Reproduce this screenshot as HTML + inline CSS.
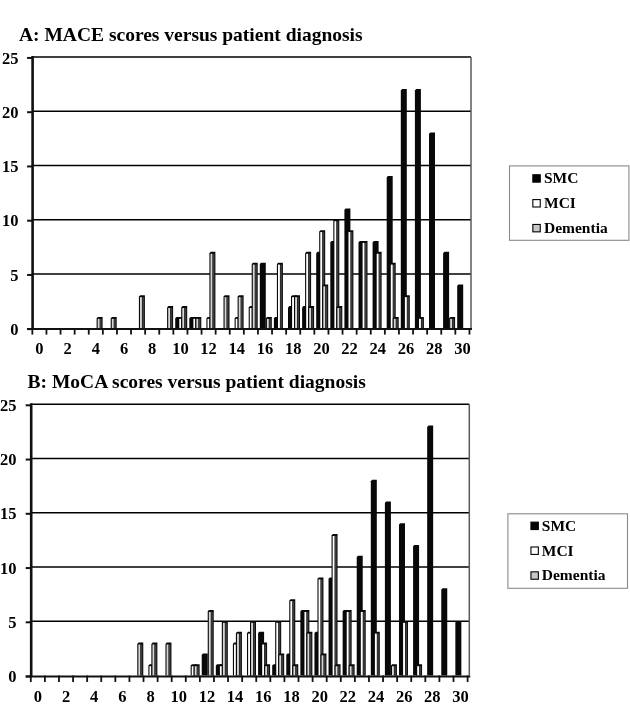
<!DOCTYPE html>
<html><head><meta charset="utf-8"><title>MACE and MoCA scores versus patient diagnosis</title>
<style>
html,body{margin:0;padding:0;background:#fff;}
body{width:630px;height:705px;overflow:hidden;}
svg{display:block;}
.h{font-family:"Liberation Serif","Times New Roman",serif;font-weight:bold;font-size:19.5px;fill:#000;}
.t{font-family:"Liberation Serif","Times New Roman",serif;font-weight:bold;font-size:16.5px;fill:#000;}
.l{font-family:"Liberation Serif","Times New Roman",serif;font-weight:bold;font-size:15.5px;fill:#000;}
</style></head>
<body>
<svg width="630" height="705" viewBox="0 0 630 705">
<rect width="630" height="705" fill="#fff"/>
<text x="19" y="40.6" class="h">A: MACE scores versus patient diagnosis</text>
<line x1="32.6" y1="273.95" x2="471" y2="273.95" stroke="#000" stroke-width="1.5"/>
<line x1="32.6" y1="219.7" x2="471" y2="219.7" stroke="#000" stroke-width="1.5"/>
<line x1="32.6" y1="165.45" x2="471" y2="165.45" stroke="#000" stroke-width="1.5"/>
<line x1="32.6" y1="111.2" x2="471" y2="111.2" stroke="#000" stroke-width="1.5"/>
<line x1="32.6" y1="56.95" x2="471" y2="56.95" stroke="#000" stroke-width="1.5"/>
<line x1="471" y1="56.95" x2="471" y2="328.2" stroke="#5a5a5a" stroke-width="1.5"/>
<polygon points="96.6,318.25 97.9,316.95 102.6,316.95 102.6,328.2 96.6,328.2" fill="#080808"/>
<rect x="97.7" y="318.85" width="1.9" height="9.35" fill="#d6d6d6"/>
<rect x="100" y="318.85" width="1.7" height="9.35" fill="#3c3c3c"/>
<polygon points="110.7,318.25 112,316.95 116.7,316.95 116.7,328.2 110.7,328.2" fill="#080808"/>
<rect x="111.8" y="318.85" width="1.9" height="9.35" fill="#d6d6d6"/>
<rect x="114.1" y="318.85" width="1.7" height="9.35" fill="#3c3c3c"/>
<polygon points="138.9,296.55 140.2,295.25 144.9,295.25 144.9,328.2 138.9,328.2" fill="#080808"/>
<rect x="140" y="297.15" width="1.9" height="31.05" fill="#d6d6d6"/>
<rect x="142.3" y="297.15" width="1.7" height="31.05" fill="#3c3c3c"/>
<polygon points="167.1,307.4 168.4,306.1 173.1,306.1 173.1,328.2 167.1,328.2" fill="#080808"/>
<rect x="168.2" y="308" width="1.9" height="20.2" fill="#d6d6d6"/>
<rect x="170.5" y="308" width="1.7" height="20.2" fill="#3c3c3c"/>
<polygon points="175.2,318.25 176.5,316.95 181.2,316.95 181.2,328.2 175.2,328.2" fill="#080808"/>
<polygon points="178.2,318.25 179.5,316.95 184.2,316.95 184.2,328.2 178.2,328.2" fill="#080808"/>
<rect x="179.3" y="318.85" width="1.9" height="9.35" fill="#fff"/>
<rect x="181.6" y="318.85" width="1.7" height="9.35" fill="#3c3c3c"/>
<polygon points="181.2,307.4 182.5,306.1 187.2,306.1 187.2,328.2 181.2,328.2" fill="#080808"/>
<rect x="182.3" y="308" width="1.9" height="20.2" fill="#d6d6d6"/>
<rect x="184.6" y="308" width="1.7" height="20.2" fill="#3c3c3c"/>
<polygon points="189.3,318.25 190.6,316.95 195.3,316.95 195.3,328.2 189.3,328.2" fill="#080808"/>
<polygon points="192.3,318.25 193.6,316.95 198.3,316.95 198.3,328.2 192.3,328.2" fill="#080808"/>
<rect x="193.4" y="318.85" width="1.9" height="9.35" fill="#fff"/>
<rect x="195.7" y="318.85" width="1.7" height="9.35" fill="#3c3c3c"/>
<polygon points="195.3,318.25 196.6,316.95 201.3,316.95 201.3,328.2 195.3,328.2" fill="#080808"/>
<rect x="196.4" y="318.85" width="1.9" height="9.35" fill="#d6d6d6"/>
<rect x="198.7" y="318.85" width="1.7" height="9.35" fill="#3c3c3c"/>
<polygon points="206.4,318.25 207.7,316.95 212.4,316.95 212.4,328.2 206.4,328.2" fill="#080808"/>
<rect x="207.5" y="318.85" width="1.9" height="9.35" fill="#fff"/>
<rect x="209.8" y="318.85" width="1.7" height="9.35" fill="#3c3c3c"/>
<polygon points="209.4,253.15 210.7,251.85 215.4,251.85 215.4,328.2 209.4,328.2" fill="#080808"/>
<rect x="210.5" y="253.75" width="1.9" height="74.45" fill="#d6d6d6"/>
<rect x="212.8" y="253.75" width="1.7" height="74.45" fill="#3c3c3c"/>
<polygon points="223.5,296.55 224.8,295.25 229.5,295.25 229.5,328.2 223.5,328.2" fill="#080808"/>
<rect x="224.6" y="297.15" width="1.9" height="31.05" fill="#d6d6d6"/>
<rect x="226.9" y="297.15" width="1.7" height="31.05" fill="#3c3c3c"/>
<polygon points="234.6,318.25 235.9,316.95 240.6,316.95 240.6,328.2 234.6,328.2" fill="#080808"/>
<rect x="235.7" y="318.85" width="1.9" height="9.35" fill="#fff"/>
<rect x="238" y="318.85" width="1.7" height="9.35" fill="#3c3c3c"/>
<polygon points="237.6,296.55 238.9,295.25 243.6,295.25 243.6,328.2 237.6,328.2" fill="#080808"/>
<rect x="238.7" y="297.15" width="1.9" height="31.05" fill="#d6d6d6"/>
<rect x="241" y="297.15" width="1.7" height="31.05" fill="#3c3c3c"/>
<polygon points="248.7,307.4 250,306.1 254.7,306.1 254.7,328.2 248.7,328.2" fill="#080808"/>
<rect x="249.8" y="308" width="1.9" height="20.2" fill="#fff"/>
<rect x="252.1" y="308" width="1.7" height="20.2" fill="#3c3c3c"/>
<polygon points="251.7,264 253,262.7 257.7,262.7 257.7,328.2 251.7,328.2" fill="#080808"/>
<rect x="252.8" y="264.6" width="1.9" height="63.6" fill="#d6d6d6"/>
<rect x="255.1" y="264.6" width="1.7" height="63.6" fill="#3c3c3c"/>
<polygon points="259.8,264 261.1,262.7 265.8,262.7 265.8,328.2 259.8,328.2" fill="#080808"/>
<polygon points="265.8,318.25 267.1,316.95 271.8,316.95 271.8,328.2 265.8,328.2" fill="#080808"/>
<rect x="266.9" y="318.85" width="1.9" height="9.35" fill="#d6d6d6"/>
<rect x="269.2" y="318.85" width="1.7" height="9.35" fill="#3c3c3c"/>
<polygon points="273.9,318.25 275.2,316.95 279.9,316.95 279.9,328.2 273.9,328.2" fill="#080808"/>
<polygon points="276.9,264 278.2,262.7 282.9,262.7 282.9,328.2 276.9,328.2" fill="#080808"/>
<rect x="278" y="264.6" width="1.9" height="63.6" fill="#fff"/>
<rect x="280.3" y="264.6" width="1.7" height="63.6" fill="#3c3c3c"/>
<polygon points="288,307.4 289.3,306.1 294,306.1 294,328.2 288,328.2" fill="#080808"/>
<polygon points="291,296.55 292.3,295.25 297,295.25 297,328.2 291,328.2" fill="#080808"/>
<rect x="292.1" y="297.15" width="1.9" height="31.05" fill="#fff"/>
<rect x="294.4" y="297.15" width="1.7" height="31.05" fill="#3c3c3c"/>
<polygon points="294,296.55 295.3,295.25 300,295.25 300,328.2 294,328.2" fill="#080808"/>
<rect x="295.1" y="297.15" width="1.9" height="31.05" fill="#d6d6d6"/>
<rect x="297.4" y="297.15" width="1.7" height="31.05" fill="#3c3c3c"/>
<polygon points="302.1,307.4 303.4,306.1 308.1,306.1 308.1,328.2 302.1,328.2" fill="#080808"/>
<polygon points="305.1,253.15 306.4,251.85 311.1,251.85 311.1,328.2 305.1,328.2" fill="#080808"/>
<rect x="306.2" y="253.75" width="1.9" height="74.45" fill="#fff"/>
<rect x="308.5" y="253.75" width="1.7" height="74.45" fill="#3c3c3c"/>
<polygon points="308.1,307.4 309.4,306.1 314.1,306.1 314.1,328.2 308.1,328.2" fill="#080808"/>
<rect x="309.2" y="308" width="1.9" height="20.2" fill="#d6d6d6"/>
<rect x="311.5" y="308" width="1.7" height="20.2" fill="#3c3c3c"/>
<polygon points="316.2,253.15 317.5,251.85 322.2,251.85 322.2,328.2 316.2,328.2" fill="#080808"/>
<polygon points="319.2,231.45 320.5,230.15 325.2,230.15 325.2,328.2 319.2,328.2" fill="#080808"/>
<rect x="320.3" y="232.05" width="1.9" height="96.15" fill="#fff"/>
<rect x="322.6" y="232.05" width="1.7" height="96.15" fill="#3c3c3c"/>
<polygon points="322.2,285.7 323.5,284.4 328.2,284.4 328.2,328.2 322.2,328.2" fill="#080808"/>
<rect x="323.3" y="286.3" width="1.9" height="41.9" fill="#d6d6d6"/>
<rect x="325.6" y="286.3" width="1.7" height="41.9" fill="#3c3c3c"/>
<polygon points="330.3,242.3 331.6,241 336.3,241 336.3,328.2 330.3,328.2" fill="#080808"/>
<polygon points="333.3,220.6 334.6,219.3 339.3,219.3 339.3,328.2 333.3,328.2" fill="#080808"/>
<rect x="334.4" y="221.2" width="1.9" height="107" fill="#fff"/>
<rect x="336.7" y="221.2" width="1.7" height="107" fill="#3c3c3c"/>
<polygon points="336.3,307.4 337.6,306.1 342.3,306.1 342.3,328.2 336.3,328.2" fill="#080808"/>
<rect x="337.4" y="308" width="1.9" height="20.2" fill="#d6d6d6"/>
<rect x="339.7" y="308" width="1.7" height="20.2" fill="#3c3c3c"/>
<polygon points="344.4,209.75 345.7,208.45 350.4,208.45 350.4,328.2 344.4,328.2" fill="#080808"/>
<polygon points="347.4,231.45 348.7,230.15 353.4,230.15 353.4,328.2 347.4,328.2" fill="#080808"/>
<rect x="348.5" y="232.05" width="1.9" height="96.15" fill="#fff"/>
<rect x="350.8" y="232.05" width="1.7" height="96.15" fill="#3c3c3c"/>
<polygon points="358.5,242.3 359.8,241 364.5,241 364.5,328.2 358.5,328.2" fill="#080808"/>
<polygon points="361.5,242.3 362.8,241 367.5,241 367.5,328.2 361.5,328.2" fill="#080808"/>
<rect x="362.6" y="242.9" width="1.9" height="85.3" fill="#fff"/>
<rect x="364.9" y="242.9" width="1.7" height="85.3" fill="#3c3c3c"/>
<polygon points="372.6,242.3 373.9,241 378.6,241 378.6,328.2 372.6,328.2" fill="#080808"/>
<polygon points="375.6,253.15 376.9,251.85 381.6,251.85 381.6,328.2 375.6,328.2" fill="#080808"/>
<rect x="376.7" y="253.75" width="1.9" height="74.45" fill="#fff"/>
<rect x="379" y="253.75" width="1.7" height="74.45" fill="#3c3c3c"/>
<polygon points="386.7,177.2 388,175.9 392.7,175.9 392.7,328.2 386.7,328.2" fill="#080808"/>
<polygon points="389.7,264 391,262.7 395.7,262.7 395.7,328.2 389.7,328.2" fill="#080808"/>
<rect x="390.8" y="264.6" width="1.9" height="63.6" fill="#fff"/>
<rect x="393.1" y="264.6" width="1.7" height="63.6" fill="#3c3c3c"/>
<polygon points="392.7,318.25 394,316.95 398.7,316.95 398.7,328.2 392.7,328.2" fill="#080808"/>
<rect x="393.8" y="318.85" width="1.9" height="9.35" fill="#d6d6d6"/>
<rect x="396.1" y="318.85" width="1.7" height="9.35" fill="#3c3c3c"/>
<polygon points="400.8,90.4 402.1,89.1 406.8,89.1 406.8,328.2 400.8,328.2" fill="#080808"/>
<polygon points="403.8,296.55 405.1,295.25 409.8,295.25 409.8,328.2 403.8,328.2" fill="#080808"/>
<rect x="404.9" y="297.15" width="1.9" height="31.05" fill="#fff"/>
<rect x="407.2" y="297.15" width="1.7" height="31.05" fill="#3c3c3c"/>
<polygon points="414.9,90.4 416.2,89.1 420.9,89.1 420.9,328.2 414.9,328.2" fill="#080808"/>
<polygon points="417.9,318.25 419.2,316.95 423.9,316.95 423.9,328.2 417.9,328.2" fill="#080808"/>
<rect x="419" y="318.85" width="1.9" height="9.35" fill="#fff"/>
<rect x="421.3" y="318.85" width="1.7" height="9.35" fill="#3c3c3c"/>
<polygon points="429,133.8 430.3,132.5 435,132.5 435,328.2 429,328.2" fill="#080808"/>
<polygon points="443.1,253.15 444.4,251.85 449.1,251.85 449.1,328.2 443.1,328.2" fill="#080808"/>
<polygon points="449.1,318.25 450.4,316.95 455.1,316.95 455.1,328.2 449.1,328.2" fill="#080808"/>
<rect x="450.2" y="318.85" width="1.9" height="9.35" fill="#d6d6d6"/>
<rect x="452.5" y="318.85" width="1.7" height="9.35" fill="#3c3c3c"/>
<polygon points="457.2,285.7 458.5,284.4 463.2,284.4 463.2,328.2 457.2,328.2" fill="#080808"/>
<line x1="32.6" y1="55.95" x2="32.6" y2="329.2" stroke="#111" stroke-width="2.6"/>
<line x1="27.1" y1="329.1" x2="472" y2="329.1" stroke="#111" stroke-width="2.0"/>
<line x1="27.1" y1="329.1" x2="32.6" y2="329.1" stroke="#111" stroke-width="2"/>
<line x1="27.1" y1="274.95" x2="32.6" y2="274.95" stroke="#111" stroke-width="2"/>
<line x1="27.1" y1="220.7" x2="32.6" y2="220.7" stroke="#111" stroke-width="2"/>
<line x1="27.1" y1="166.45" x2="32.6" y2="166.45" stroke="#111" stroke-width="2"/>
<line x1="27.1" y1="112.2" x2="32.6" y2="112.2" stroke="#111" stroke-width="2"/>
<line x1="27.1" y1="57.95" x2="32.6" y2="57.95" stroke="#111" stroke-width="2"/>
<line x1="32.35" y1="328.2" x2="32.35" y2="334.6" stroke="#111" stroke-width="1.8"/>
<line x1="46.45" y1="328.2" x2="46.45" y2="334.6" stroke="#111" stroke-width="1.8"/>
<line x1="60.55" y1="328.2" x2="60.55" y2="334.6" stroke="#111" stroke-width="1.8"/>
<line x1="74.65" y1="328.2" x2="74.65" y2="334.6" stroke="#111" stroke-width="1.8"/>
<line x1="88.75" y1="328.2" x2="88.75" y2="334.6" stroke="#111" stroke-width="1.8"/>
<line x1="102.85" y1="328.2" x2="102.85" y2="334.6" stroke="#111" stroke-width="1.8"/>
<line x1="116.95" y1="328.2" x2="116.95" y2="334.6" stroke="#111" stroke-width="1.8"/>
<line x1="131.05" y1="328.2" x2="131.05" y2="334.6" stroke="#111" stroke-width="1.8"/>
<line x1="145.15" y1="328.2" x2="145.15" y2="334.6" stroke="#111" stroke-width="1.8"/>
<line x1="159.25" y1="328.2" x2="159.25" y2="334.6" stroke="#111" stroke-width="1.8"/>
<line x1="173.35" y1="328.2" x2="173.35" y2="334.6" stroke="#111" stroke-width="1.8"/>
<line x1="187.45" y1="328.2" x2="187.45" y2="334.6" stroke="#111" stroke-width="1.8"/>
<line x1="201.55" y1="328.2" x2="201.55" y2="334.6" stroke="#111" stroke-width="1.8"/>
<line x1="215.65" y1="328.2" x2="215.65" y2="334.6" stroke="#111" stroke-width="1.8"/>
<line x1="229.75" y1="328.2" x2="229.75" y2="334.6" stroke="#111" stroke-width="1.8"/>
<line x1="243.85" y1="328.2" x2="243.85" y2="334.6" stroke="#111" stroke-width="1.8"/>
<line x1="257.95" y1="328.2" x2="257.95" y2="334.6" stroke="#111" stroke-width="1.8"/>
<line x1="272.05" y1="328.2" x2="272.05" y2="334.6" stroke="#111" stroke-width="1.8"/>
<line x1="286.15" y1="328.2" x2="286.15" y2="334.6" stroke="#111" stroke-width="1.8"/>
<line x1="300.25" y1="328.2" x2="300.25" y2="334.6" stroke="#111" stroke-width="1.8"/>
<line x1="314.35" y1="328.2" x2="314.35" y2="334.6" stroke="#111" stroke-width="1.8"/>
<line x1="328.45" y1="328.2" x2="328.45" y2="334.6" stroke="#111" stroke-width="1.8"/>
<line x1="342.55" y1="328.2" x2="342.55" y2="334.6" stroke="#111" stroke-width="1.8"/>
<line x1="356.65" y1="328.2" x2="356.65" y2="334.6" stroke="#111" stroke-width="1.8"/>
<line x1="370.75" y1="328.2" x2="370.75" y2="334.6" stroke="#111" stroke-width="1.8"/>
<line x1="384.85" y1="328.2" x2="384.85" y2="334.6" stroke="#111" stroke-width="1.8"/>
<line x1="398.95" y1="328.2" x2="398.95" y2="334.6" stroke="#111" stroke-width="1.8"/>
<line x1="413.05" y1="328.2" x2="413.05" y2="334.6" stroke="#111" stroke-width="1.8"/>
<line x1="427.15" y1="328.2" x2="427.15" y2="334.6" stroke="#111" stroke-width="1.8"/>
<line x1="441.25" y1="328.2" x2="441.25" y2="334.6" stroke="#111" stroke-width="1.8"/>
<line x1="455.35" y1="328.2" x2="455.35" y2="334.6" stroke="#111" stroke-width="1.8"/>
<line x1="469.45" y1="328.2" x2="469.45" y2="334.6" stroke="#111" stroke-width="1.8"/>
<text x="18.4" y="334.8" text-anchor="end" class="t">0</text>
<text x="18.4" y="280.55" text-anchor="end" class="t">5</text>
<text x="18.4" y="226.3" text-anchor="end" class="t">10</text>
<text x="18.4" y="172.05" text-anchor="end" class="t">15</text>
<text x="18.4" y="117.8" text-anchor="end" class="t">20</text>
<text x="18.4" y="63.55" text-anchor="end" class="t">25</text>
<text x="39.4" y="354.2" text-anchor="middle" class="t">0</text>
<text x="67.6" y="354.2" text-anchor="middle" class="t">2</text>
<text x="95.8" y="354.2" text-anchor="middle" class="t">4</text>
<text x="124" y="354.2" text-anchor="middle" class="t">6</text>
<text x="152.2" y="354.2" text-anchor="middle" class="t">8</text>
<text x="180.4" y="354.2" text-anchor="middle" class="t">10</text>
<text x="208.6" y="354.2" text-anchor="middle" class="t">12</text>
<text x="236.8" y="354.2" text-anchor="middle" class="t">14</text>
<text x="265" y="354.2" text-anchor="middle" class="t">16</text>
<text x="293.2" y="354.2" text-anchor="middle" class="t">18</text>
<text x="321.4" y="354.2" text-anchor="middle" class="t">20</text>
<text x="349.6" y="354.2" text-anchor="middle" class="t">22</text>
<text x="377.8" y="354.2" text-anchor="middle" class="t">24</text>
<text x="406" y="354.2" text-anchor="middle" class="t">26</text>
<text x="434.2" y="354.2" text-anchor="middle" class="t">28</text>
<text x="462.4" y="354.2" text-anchor="middle" class="t">30</text>
<rect x="509.5" y="165.9" width="119.4" height="74.4" fill="#fff" stroke="#8a8a8a" stroke-width="1.1"/>
<rect x="532.85" y="174.75" width="7.4" height="7.4" fill="#000" stroke="#000" stroke-width="1.1"/>
<text x="544" y="182.8" class="l">SMC</text>
<rect x="532.85" y="199.6" width="7.4" height="7.4" fill="#fff" stroke="#000" stroke-width="1.1"/>
<text x="544" y="207.8" class="l">MCI</text>
<rect x="532.85" y="224.45" width="7.4" height="7.4" fill="#c8c8c8" stroke="#000" stroke-width="1.1"/>
<text x="544" y="232.8" class="l">Dementia</text>
<text x="27.6" y="387.9" class="h">B: MoCA scores versus patient diagnosis</text>
<line x1="31.2" y1="621.3" x2="469.3" y2="621.3" stroke="#000" stroke-width="1.5"/>
<line x1="31.2" y1="567.05" x2="469.3" y2="567.05" stroke="#000" stroke-width="1.5"/>
<line x1="31.2" y1="512.8" x2="469.3" y2="512.8" stroke="#000" stroke-width="1.5"/>
<line x1="31.2" y1="458.55" x2="469.3" y2="458.55" stroke="#000" stroke-width="1.5"/>
<line x1="31.2" y1="404.3" x2="469.3" y2="404.3" stroke="#000" stroke-width="1.5"/>
<line x1="469.3" y1="404.3" x2="469.3" y2="675.55" stroke="#5a5a5a" stroke-width="1.5"/>
<polygon points="137.28,643.9 138.58,642.6 143.28,642.6 143.28,675.55 137.28,675.55" fill="#080808"/>
<rect x="138.38" y="644.5" width="1.9" height="31.05" fill="#d6d6d6"/>
<rect x="140.68" y="644.5" width="1.7" height="31.05" fill="#3c3c3c"/>
<polygon points="148.37,665.6 149.67,664.3 154.37,664.3 154.37,675.55 148.37,675.55" fill="#080808"/>
<rect x="149.47" y="666.2" width="1.9" height="9.35" fill="#fff"/>
<rect x="151.77" y="666.2" width="1.7" height="9.35" fill="#3c3c3c"/>
<polygon points="151.37,643.9 152.67,642.6 157.37,642.6 157.37,675.55 151.37,675.55" fill="#080808"/>
<rect x="152.47" y="644.5" width="1.9" height="31.05" fill="#d6d6d6"/>
<rect x="154.77" y="644.5" width="1.7" height="31.05" fill="#3c3c3c"/>
<polygon points="165.46,643.9 166.76,642.6 171.46,642.6 171.46,675.55 165.46,675.55" fill="#080808"/>
<rect x="166.56" y="644.5" width="1.9" height="31.05" fill="#d6d6d6"/>
<rect x="168.86" y="644.5" width="1.7" height="31.05" fill="#3c3c3c"/>
<polygon points="190.64,665.6 191.94,664.3 196.64,664.3 196.64,675.55 190.64,675.55" fill="#080808"/>
<rect x="191.74" y="666.2" width="1.9" height="9.35" fill="#fff"/>
<rect x="194.04" y="666.2" width="1.7" height="9.35" fill="#3c3c3c"/>
<polygon points="193.64,665.6 194.94,664.3 199.64,664.3 199.64,675.55 193.64,675.55" fill="#080808"/>
<rect x="194.74" y="666.2" width="1.9" height="9.35" fill="#d6d6d6"/>
<rect x="197.04" y="666.2" width="1.7" height="9.35" fill="#3c3c3c"/>
<polygon points="201.73,654.75 203.03,653.45 207.73,653.45 207.73,675.55 201.73,675.55" fill="#080808"/>
<polygon points="207.73,611.35 209.03,610.05 213.73,610.05 213.73,675.55 207.73,675.55" fill="#080808"/>
<rect x="208.83" y="611.95" width="1.9" height="63.6" fill="#d6d6d6"/>
<rect x="211.13" y="611.95" width="1.7" height="63.6" fill="#3c3c3c"/>
<polygon points="215.82,665.6 217.12,664.3 221.82,664.3 221.82,675.55 215.82,675.55" fill="#080808"/>
<polygon points="218.82,665.6 220.12,664.3 224.82,664.3 224.82,675.55 218.82,675.55" fill="#080808"/>
<rect x="219.92" y="666.2" width="1.9" height="9.35" fill="#fff"/>
<rect x="222.22" y="666.2" width="1.7" height="9.35" fill="#3c3c3c"/>
<polygon points="221.82,622.2 223.12,620.9 227.82,620.9 227.82,675.55 221.82,675.55" fill="#080808"/>
<rect x="222.92" y="622.8" width="1.9" height="52.75" fill="#d6d6d6"/>
<rect x="225.22" y="622.8" width="1.7" height="52.75" fill="#3c3c3c"/>
<polygon points="232.91,643.9 234.21,642.6 238.91,642.6 238.91,675.55 232.91,675.55" fill="#080808"/>
<rect x="234.01" y="644.5" width="1.9" height="31.05" fill="#fff"/>
<rect x="236.31" y="644.5" width="1.7" height="31.05" fill="#3c3c3c"/>
<polygon points="235.91,633.05 237.21,631.75 241.91,631.75 241.91,675.55 235.91,675.55" fill="#080808"/>
<rect x="237.01" y="633.65" width="1.9" height="41.9" fill="#d6d6d6"/>
<rect x="239.31" y="633.65" width="1.7" height="41.9" fill="#3c3c3c"/>
<polygon points="247,633.05 248.3,631.75 253,631.75 253,675.55 247,675.55" fill="#080808"/>
<rect x="248.1" y="633.65" width="1.9" height="41.9" fill="#fff"/>
<rect x="250.4" y="633.65" width="1.7" height="41.9" fill="#3c3c3c"/>
<polygon points="250,622.2 251.3,620.9 256,620.9 256,675.55 250,675.55" fill="#080808"/>
<rect x="251.1" y="622.8" width="1.9" height="52.75" fill="#d6d6d6"/>
<rect x="253.4" y="622.8" width="1.7" height="52.75" fill="#3c3c3c"/>
<polygon points="258.09,633.05 259.39,631.75 264.09,631.75 264.09,675.55 258.09,675.55" fill="#080808"/>
<polygon points="261.09,643.9 262.39,642.6 267.09,642.6 267.09,675.55 261.09,675.55" fill="#080808"/>
<rect x="262.19" y="644.5" width="1.9" height="31.05" fill="#fff"/>
<rect x="264.49" y="644.5" width="1.7" height="31.05" fill="#3c3c3c"/>
<polygon points="264.09,665.6 265.39,664.3 270.09,664.3 270.09,675.55 264.09,675.55" fill="#080808"/>
<rect x="265.19" y="666.2" width="1.9" height="9.35" fill="#d6d6d6"/>
<rect x="267.49" y="666.2" width="1.7" height="9.35" fill="#3c3c3c"/>
<polygon points="272.18,665.6 273.48,664.3 278.18,664.3 278.18,675.55 272.18,675.55" fill="#080808"/>
<polygon points="275.18,622.2 276.48,620.9 281.18,620.9 281.18,675.55 275.18,675.55" fill="#080808"/>
<rect x="276.28" y="622.8" width="1.9" height="52.75" fill="#fff"/>
<rect x="278.58" y="622.8" width="1.7" height="52.75" fill="#3c3c3c"/>
<polygon points="278.18,654.75 279.48,653.45 284.18,653.45 284.18,675.55 278.18,675.55" fill="#080808"/>
<rect x="279.28" y="655.35" width="1.9" height="20.2" fill="#d6d6d6"/>
<rect x="281.58" y="655.35" width="1.7" height="20.2" fill="#3c3c3c"/>
<polygon points="286.27,654.75 287.57,653.45 292.27,653.45 292.27,675.55 286.27,675.55" fill="#080808"/>
<polygon points="289.27,600.5 290.57,599.2 295.27,599.2 295.27,675.55 289.27,675.55" fill="#080808"/>
<rect x="290.37" y="601.1" width="1.9" height="74.45" fill="#fff"/>
<rect x="292.67" y="601.1" width="1.7" height="74.45" fill="#3c3c3c"/>
<polygon points="292.27,665.6 293.57,664.3 298.27,664.3 298.27,675.55 292.27,675.55" fill="#080808"/>
<rect x="293.37" y="666.2" width="1.9" height="9.35" fill="#d6d6d6"/>
<rect x="295.67" y="666.2" width="1.7" height="9.35" fill="#3c3c3c"/>
<polygon points="300.36,611.35 301.66,610.05 306.36,610.05 306.36,675.55 300.36,675.55" fill="#080808"/>
<polygon points="303.36,611.35 304.66,610.05 309.36,610.05 309.36,675.55 303.36,675.55" fill="#080808"/>
<rect x="304.46" y="611.95" width="1.9" height="63.6" fill="#fff"/>
<rect x="306.76" y="611.95" width="1.7" height="63.6" fill="#3c3c3c"/>
<polygon points="306.36,633.05 307.66,631.75 312.36,631.75 312.36,675.55 306.36,675.55" fill="#080808"/>
<rect x="307.46" y="633.65" width="1.9" height="41.9" fill="#d6d6d6"/>
<rect x="309.76" y="633.65" width="1.7" height="41.9" fill="#3c3c3c"/>
<polygon points="314.45,633.05 315.75,631.75 320.45,631.75 320.45,675.55 314.45,675.55" fill="#080808"/>
<polygon points="317.45,578.8 318.75,577.5 323.45,577.5 323.45,675.55 317.45,675.55" fill="#080808"/>
<rect x="318.55" y="579.4" width="1.9" height="96.15" fill="#fff"/>
<rect x="320.85" y="579.4" width="1.7" height="96.15" fill="#3c3c3c"/>
<polygon points="320.45,654.75 321.75,653.45 326.45,653.45 326.45,675.55 320.45,675.55" fill="#080808"/>
<rect x="321.55" y="655.35" width="1.9" height="20.2" fill="#d6d6d6"/>
<rect x="323.85" y="655.35" width="1.7" height="20.2" fill="#3c3c3c"/>
<polygon points="328.54,578.8 329.84,577.5 334.54,577.5 334.54,675.55 328.54,675.55" fill="#080808"/>
<polygon points="331.54,535.4 332.84,534.1 337.54,534.1 337.54,675.55 331.54,675.55" fill="#080808"/>
<rect x="332.64" y="536" width="1.9" height="139.55" fill="#fff"/>
<rect x="334.94" y="536" width="1.7" height="139.55" fill="#3c3c3c"/>
<polygon points="334.54,665.6 335.84,664.3 340.54,664.3 340.54,675.55 334.54,675.55" fill="#080808"/>
<rect x="335.64" y="666.2" width="1.9" height="9.35" fill="#d6d6d6"/>
<rect x="337.94" y="666.2" width="1.7" height="9.35" fill="#3c3c3c"/>
<polygon points="342.63,611.35 343.93,610.05 348.63,610.05 348.63,675.55 342.63,675.55" fill="#080808"/>
<polygon points="345.63,611.35 346.93,610.05 351.63,610.05 351.63,675.55 345.63,675.55" fill="#080808"/>
<rect x="346.73" y="611.95" width="1.9" height="63.6" fill="#fff"/>
<rect x="349.03" y="611.95" width="1.7" height="63.6" fill="#3c3c3c"/>
<polygon points="348.63,665.6 349.93,664.3 354.63,664.3 354.63,675.55 348.63,675.55" fill="#080808"/>
<rect x="349.73" y="666.2" width="1.9" height="9.35" fill="#d6d6d6"/>
<rect x="352.03" y="666.2" width="1.7" height="9.35" fill="#3c3c3c"/>
<polygon points="356.72,557.1 358.02,555.8 362.72,555.8 362.72,675.55 356.72,675.55" fill="#080808"/>
<polygon points="359.72,611.35 361.02,610.05 365.72,610.05 365.72,675.55 359.72,675.55" fill="#080808"/>
<rect x="360.82" y="611.95" width="1.9" height="63.6" fill="#fff"/>
<rect x="363.12" y="611.95" width="1.7" height="63.6" fill="#3c3c3c"/>
<polygon points="370.81,481.15 372.11,479.85 376.81,479.85 376.81,675.55 370.81,675.55" fill="#080808"/>
<polygon points="373.81,633.05 375.11,631.75 379.81,631.75 379.81,675.55 373.81,675.55" fill="#080808"/>
<rect x="374.91" y="633.65" width="1.9" height="41.9" fill="#fff"/>
<rect x="377.21" y="633.65" width="1.7" height="41.9" fill="#3c3c3c"/>
<polygon points="384.9,502.85 386.2,501.55 390.9,501.55 390.9,675.55 384.9,675.55" fill="#080808"/>
<polygon points="390.9,665.6 392.2,664.3 396.9,664.3 396.9,675.55 390.9,675.55" fill="#080808"/>
<rect x="392" y="666.2" width="1.9" height="9.35" fill="#d6d6d6"/>
<rect x="394.3" y="666.2" width="1.7" height="9.35" fill="#3c3c3c"/>
<polygon points="398.99,524.55 400.29,523.25 404.99,523.25 404.99,675.55 398.99,675.55" fill="#080808"/>
<polygon points="401.99,622.2 403.29,620.9 407.99,620.9 407.99,675.55 401.99,675.55" fill="#080808"/>
<rect x="403.09" y="622.8" width="1.9" height="52.75" fill="#fff"/>
<rect x="405.39" y="622.8" width="1.7" height="52.75" fill="#3c3c3c"/>
<polygon points="413.08,546.25 414.38,544.95 419.08,544.95 419.08,675.55 413.08,675.55" fill="#080808"/>
<polygon points="416.08,665.6 417.38,664.3 422.08,664.3 422.08,675.55 416.08,675.55" fill="#080808"/>
<rect x="417.18" y="666.2" width="1.9" height="9.35" fill="#fff"/>
<rect x="419.48" y="666.2" width="1.7" height="9.35" fill="#3c3c3c"/>
<polygon points="427.17,426.9 428.47,425.6 433.17,425.6 433.17,675.55 427.17,675.55" fill="#080808"/>
<polygon points="441.26,589.65 442.56,588.35 447.26,588.35 447.26,675.55 441.26,675.55" fill="#080808"/>
<polygon points="455.35,622.2 456.65,620.9 461.35,620.9 461.35,675.55 455.35,675.55" fill="#080808"/>
<line x1="31.2" y1="403.3" x2="31.2" y2="676.55" stroke="#111" stroke-width="2.6"/>
<line x1="25.7" y1="676.45" x2="470.3" y2="676.45" stroke="#111" stroke-width="2.0"/>
<line x1="25.7" y1="676.45" x2="31.2" y2="676.45" stroke="#111" stroke-width="2"/>
<line x1="25.7" y1="622.3" x2="31.2" y2="622.3" stroke="#111" stroke-width="2"/>
<line x1="25.7" y1="568.05" x2="31.2" y2="568.05" stroke="#111" stroke-width="2"/>
<line x1="25.7" y1="513.8" x2="31.2" y2="513.8" stroke="#111" stroke-width="2"/>
<line x1="25.7" y1="459.55" x2="31.2" y2="459.55" stroke="#111" stroke-width="2"/>
<line x1="25.7" y1="405.3" x2="31.2" y2="405.3" stroke="#111" stroke-width="2"/>
<line x1="30.8" y1="675.55" x2="30.8" y2="681.95" stroke="#111" stroke-width="1.8"/>
<line x1="44.89" y1="675.55" x2="44.89" y2="681.95" stroke="#111" stroke-width="1.8"/>
<line x1="58.98" y1="675.55" x2="58.98" y2="681.95" stroke="#111" stroke-width="1.8"/>
<line x1="73.07" y1="675.55" x2="73.07" y2="681.95" stroke="#111" stroke-width="1.8"/>
<line x1="87.16" y1="675.55" x2="87.16" y2="681.95" stroke="#111" stroke-width="1.8"/>
<line x1="101.25" y1="675.55" x2="101.25" y2="681.95" stroke="#111" stroke-width="1.8"/>
<line x1="115.34" y1="675.55" x2="115.34" y2="681.95" stroke="#111" stroke-width="1.8"/>
<line x1="129.43" y1="675.55" x2="129.43" y2="681.95" stroke="#111" stroke-width="1.8"/>
<line x1="143.52" y1="675.55" x2="143.52" y2="681.95" stroke="#111" stroke-width="1.8"/>
<line x1="157.61" y1="675.55" x2="157.61" y2="681.95" stroke="#111" stroke-width="1.8"/>
<line x1="171.7" y1="675.55" x2="171.7" y2="681.95" stroke="#111" stroke-width="1.8"/>
<line x1="185.79" y1="675.55" x2="185.79" y2="681.95" stroke="#111" stroke-width="1.8"/>
<line x1="199.88" y1="675.55" x2="199.88" y2="681.95" stroke="#111" stroke-width="1.8"/>
<line x1="213.97" y1="675.55" x2="213.97" y2="681.95" stroke="#111" stroke-width="1.8"/>
<line x1="228.06" y1="675.55" x2="228.06" y2="681.95" stroke="#111" stroke-width="1.8"/>
<line x1="242.15" y1="675.55" x2="242.15" y2="681.95" stroke="#111" stroke-width="1.8"/>
<line x1="256.24" y1="675.55" x2="256.24" y2="681.95" stroke="#111" stroke-width="1.8"/>
<line x1="270.33" y1="675.55" x2="270.33" y2="681.95" stroke="#111" stroke-width="1.8"/>
<line x1="284.42" y1="675.55" x2="284.42" y2="681.95" stroke="#111" stroke-width="1.8"/>
<line x1="298.51" y1="675.55" x2="298.51" y2="681.95" stroke="#111" stroke-width="1.8"/>
<line x1="312.6" y1="675.55" x2="312.6" y2="681.95" stroke="#111" stroke-width="1.8"/>
<line x1="326.69" y1="675.55" x2="326.69" y2="681.95" stroke="#111" stroke-width="1.8"/>
<line x1="340.78" y1="675.55" x2="340.78" y2="681.95" stroke="#111" stroke-width="1.8"/>
<line x1="354.87" y1="675.55" x2="354.87" y2="681.95" stroke="#111" stroke-width="1.8"/>
<line x1="368.96" y1="675.55" x2="368.96" y2="681.95" stroke="#111" stroke-width="1.8"/>
<line x1="383.05" y1="675.55" x2="383.05" y2="681.95" stroke="#111" stroke-width="1.8"/>
<line x1="397.14" y1="675.55" x2="397.14" y2="681.95" stroke="#111" stroke-width="1.8"/>
<line x1="411.23" y1="675.55" x2="411.23" y2="681.95" stroke="#111" stroke-width="1.8"/>
<line x1="425.32" y1="675.55" x2="425.32" y2="681.95" stroke="#111" stroke-width="1.8"/>
<line x1="439.41" y1="675.55" x2="439.41" y2="681.95" stroke="#111" stroke-width="1.8"/>
<line x1="453.5" y1="675.55" x2="453.5" y2="681.95" stroke="#111" stroke-width="1.8"/>
<line x1="467.59" y1="675.55" x2="467.59" y2="681.95" stroke="#111" stroke-width="1.8"/>
<text x="16.4" y="682.15" text-anchor="end" class="t">0</text>
<text x="16.4" y="627.9" text-anchor="end" class="t">5</text>
<text x="16.4" y="573.65" text-anchor="end" class="t">10</text>
<text x="16.4" y="519.4" text-anchor="end" class="t">15</text>
<text x="16.4" y="465.15" text-anchor="end" class="t">20</text>
<text x="16.4" y="410.9" text-anchor="end" class="t">25</text>
<text x="37.84" y="701.5" text-anchor="middle" class="t">0</text>
<text x="66.03" y="701.5" text-anchor="middle" class="t">2</text>
<text x="94.2" y="701.5" text-anchor="middle" class="t">4</text>
<text x="122.38" y="701.5" text-anchor="middle" class="t">6</text>
<text x="150.56" y="701.5" text-anchor="middle" class="t">8</text>
<text x="178.75" y="701.5" text-anchor="middle" class="t">10</text>
<text x="206.93" y="701.5" text-anchor="middle" class="t">12</text>
<text x="235.11" y="701.5" text-anchor="middle" class="t">14</text>
<text x="263.28" y="701.5" text-anchor="middle" class="t">16</text>
<text x="291.47" y="701.5" text-anchor="middle" class="t">18</text>
<text x="319.64" y="701.5" text-anchor="middle" class="t">20</text>
<text x="347.82" y="701.5" text-anchor="middle" class="t">22</text>
<text x="376" y="701.5" text-anchor="middle" class="t">24</text>
<text x="404.19" y="701.5" text-anchor="middle" class="t">26</text>
<text x="432.37" y="701.5" text-anchor="middle" class="t">28</text>
<text x="460.55" y="701.5" text-anchor="middle" class="t">30</text>
<rect x="507.9" y="513.8" width="119.6" height="74.5" fill="#fff" stroke="#8a8a8a" stroke-width="1.1"/>
<rect x="530.95" y="522.15" width="7.4" height="7.4" fill="#000" stroke="#000" stroke-width="1.1"/>
<text x="541.8" y="530.6" class="l">SMC</text>
<rect x="530.95" y="547" width="7.4" height="7.4" fill="#fff" stroke="#000" stroke-width="1.1"/>
<text x="541.8" y="555.5" class="l">MCI</text>
<rect x="530.95" y="571.85" width="7.4" height="7.4" fill="#c8c8c8" stroke="#000" stroke-width="1.1"/>
<text x="541.8" y="580.4" class="l">Dementia</text>
</svg>
</body></html>
